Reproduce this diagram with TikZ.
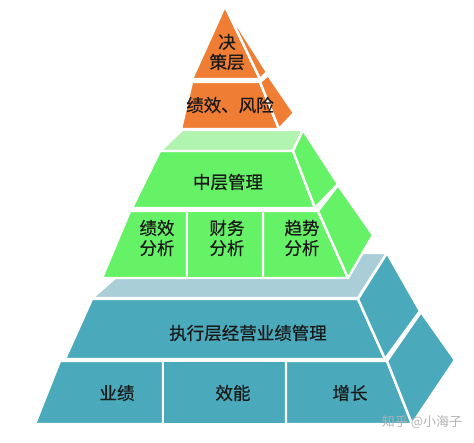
\documentclass[tikz,border=0pt]{standalone}
\usepackage{fontspec}
\newfontfamily\cjk[FakeBold=0.6]{Noto Sans CJK SC}
\newfontfamily\cjkwm{Noto Sans CJK SC}
\definecolor{orng}{HTML}{EF7E34}
\definecolor{grn}{HTML}{66F266}
\definecolor{grntop}{HTML}{B0F4B0}
\definecolor{teal1}{HTML}{4AAABB}
\definecolor{tealtop}{HTML}{A9CED8}
\definecolor{txt}{HTML}{1A1A1A}
\begin{document}
\begin{tikzpicture}[x=1pt,y=-1pt,
  face/.style={draw=white, line width=2.4pt, line join=round},
  lbl/.style={font=\cjk\fontsize{17.5}{20}\selectfont, text=txt, align=center, inner sep=0pt},
  wm/.style={font=\cjkwm\fontsize{13}{15}\selectfont, text=gray!60, inner sep=0pt}]
\useasboundingbox (0,0) rectangle (474,442);
\fill[white] (0,0) rectangle (474,442);
% ---- teal base ----
\fill[tealtop, face] (92,298) -- (358,298) -- (387,253) -- (144,253) -- cycle;
\fill[teal1, face] (92,299) -- (358,299) -- (385,359) -- (65,359) -- cycle;
\fill[teal1, face] (358,299) -- (387,253) -- (420,311) -- (385,359) -- cycle;
\fill[teal1, face] (60,361) -- (163,361) -- (163,424) -- (35,424) -- cycle;
\fill[teal1, face] (163,361) -- (286,361) -- (286,424) -- (163,424) -- cycle;
\fill[teal1, face] (286,361) -- (387,361) -- (412,424) -- (286,424) -- cycle;
\fill[teal1, face] (387,361) -- (421,312) -- (455,360) -- (412,424) -- cycle;
% ---- green middle ----
\fill[grntop, face] (160,151) -- (293,151) -- (303,130) -- (182,130) -- cycle;
\fill[grn, face] (160,151) -- (293,151) -- (315,208) -- (132,208) -- cycle;
\fill[grn, face] (293,151) -- (303,130) -- (338,184) -- (315,208) -- cycle;
\fill[grn, face] (130,211) -- (187,211) -- (187,278) -- (102,278) -- cycle;
\fill[grn, face] (187,211) -- (263,211) -- (263,278) -- (187,278) -- cycle;
\fill[grn, face] (263,211) -- (318,211) -- (348,278) -- (263,278) -- cycle;
\fill[grn, face] (318,211) -- (338,185) -- (373,235) -- (348,278) -- cycle;
% ---- orange top ----
\fill[orng, face] (225,6) -- (192,79) -- (260,79) -- cycle;
\fill[orng, face] (225,6) -- (267,72) -- (260,79) -- cycle;
\fill[orng, face] (192,82) -- (260,82) -- (279,129) -- (181,129) -- cycle;
\fill[orng, face] (260,82) -- (268,75) -- (294,113) -- (279,129) -- cycle;
% ---- labels ----
\node[lbl] (dec) at (227,52) {决\\策层};
\node[lbl] (risk) at (230,105) {绩效、风险};
\node[lbl] (mid) at (228,182) {中层管理};
\node[lbl] (ga) at (157,238) {绩效\\分析};
\node[lbl] (gb) at (227,238) {财务\\分析};
\node[lbl] (gc) at (302,238) {趋势\\分析};
\node[lbl] (exec) at (248,333) {执行层经营业绩管理};
\node[lbl] (ta) at (117,393) {业绩};
\node[lbl] (tb) at (233,393) {效能};
\node[lbl] (tc) at (350,393) {增长};
\node[wm] (mark) at (422,422) {知乎 @小海子};
\end{tikzpicture}
\end{document}
